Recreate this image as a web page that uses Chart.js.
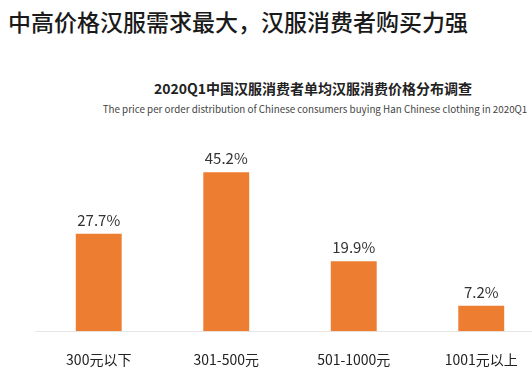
<!DOCTYPE html>
<html>
<head>
<meta charset="utf-8">
<script src="https://cdn.jsdelivr.net/npm/chart.js@4"></script>
<style>
  body { margin: 0; width: 532px; height: 374px; overflow: hidden; background: #fff; position: relative;
         font-family: "Noto Sans CJK SC", "Noto Sans", sans-serif; }
  #headline { position: absolute; left: 8px; top: 4px; font-size: 23px; font-weight: 500; color: #1a1a1a; white-space: nowrap; }
  #title { position: absolute; left: 0; width: 626px; top: 78px; text-align: center; font-size: 14px; font-weight: bold; color: #222; white-space: nowrap; }
  #subtitle { position: absolute; left: 0; width: 630px; top: 102px; text-align: center; font-size: 9.8px; color: #444; white-space: nowrap; }
  #wrap { position: absolute; left: 0; top: 142px; width: 545px; height: 253px; }
</style>
</head>
<body>
<div id="headline">中高价格汉服需求最大，汉服消费者购买力强</div>
<div id="title">2020Q1中国汉服消费者单均汉服消费价格分布调查</div>
<div id="subtitle">The price per order distribution of Chinese consumers buying Han Chinese clothing in 2020Q1</div>
<div id="wrap"><canvas id="myChart"></canvas></div>
<script>
const categories = ['300元以下', '301-500元', '501-1000元', '1001元以上'];
const shares = [27.7, 45.2, 19.9, 7.2];

// draws the value above each bar
const valueLabels = {
    id: 'valueLabels',
    afterDatasetsDraw(chart) {
        const ctx = chart.ctx;
        const meta = chart.getDatasetMeta(0);
        ctx.save();
        ctx.font = '15px "Noto Sans CJK SC"';
        ctx.fillStyle = '#333';
        ctx.textAlign = 'center';
        ctx.textBaseline = 'bottom';
        meta.data.forEach((bar, i) => {
            ctx.fillText(shares[i].toFixed(1) + '%', bar.x, bar.y - 6);
        });
        ctx.restore();
    }
};

const ctx = document.getElementById('myChart');
new Chart(ctx, {
    type: 'bar',
    data: {
        labels: categories,
        datasets: [{
            data: shares,
            backgroundColor: '#ED7D31',
            categoryPercentage: 1,
            barPercentage: 0.36
        }]
    },
    options: {
        responsive: true,
        maintainAspectRatio: false,
        animation: false,
        layout: { padding: { left: 35, top: 15, bottom: 7, right: 0 } },
        plugins: {
            legend: { display: false },
            tooltip: { enabled: false }
        },
        scales: {
            x: {
                grid: { display: false, drawTicks: false },
                border: { display: true, color: '#e6e6e6', width: 1 },
                ticks: {
                    color: '#222',
                    padding: 20,
                    font: { family: '"Noto Sans CJK SC"', size: 14 }
                }
            },
            y: {
                display: false,
                min: 0,
                max: 49.5
            }
        }
    },
    plugins: [valueLabels]
});
</script>
</body>
</html>
